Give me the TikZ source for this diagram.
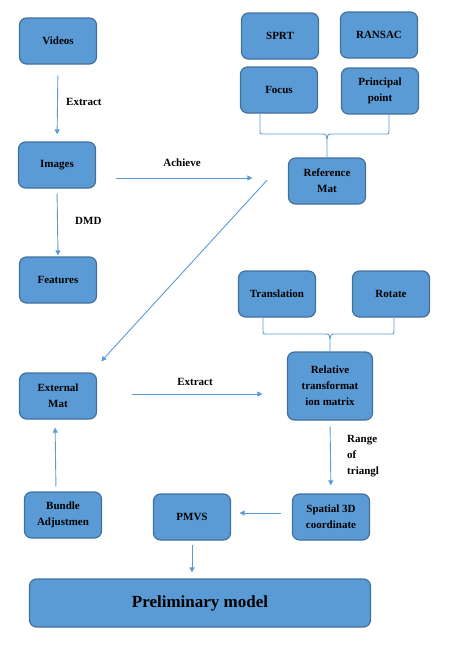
\documentclass[tikz,border=0pt]{standalone}
\usepackage{fontspec}
\setmainfont{Liberation Serif}
\usepackage{tikz}
\usetikzlibrary{arrows.meta}
\definecolor{boxfill}{RGB}{91,155,213}
\definecolor{boxline}{RGB}{65,113,156}
\begin{document}
\begin{tikzpicture}[x=1pt,y=-1pt,
    box/.style={draw=boxline,line width=1.2pt,fill=boxfill,rounded corners=7pt,
        minimum width=\w,minimum height=\h,align=center,inner sep=1pt,
        font=\fontsize{11}{16}\selectfont\bfseries},
    lbl/.style={font=\fontsize{11}{16}\selectfont\bfseries,inner sep=0pt},
    arr/.style={draw=boxfill,line width=0.9pt,-{Triangle[length=5pt,width=5pt]}},
    brace/.style={draw=boxfill,line width=0.9pt}]
        \pgfmathsetmacro\w{77}
        \pgfmathsetmacro\h{46}
        \useasboundingbox (0,0) rectangle (451,659);
        % left column
        \node[box] (videos) at (58,41) {Videos};
        \node[box] (images) at (57,165) {Images};
        \node[box] (features) at (58,280) {Features};
        \node[box] (extmat) at (58,396) {External\\Mat};
        \node[box] (bundle) at (63,515) {Bundle\\Adjustmen};
        % right column
        \node[box] (sprt) at (280,36) {SPRT};
        \node[box] (ransac) at (379,35) {RANSAC};
        \node[box] (focus) at (279,90) {Focus};
        \node[box] (princ) at (380,91) {Principal\\point};
        \node[box] (refmat) at (327,181) {Reference\\Mat};
        \node[box] (transl) at (277,294) {Translation};
        \node[box] (rotate) at (391,294) {Rotate};
        \node[box,minimum width=85,minimum height=68] (reltm) at (330,386) {Relative\\transformat\\ion matrix};
        \node[box] (spatial) at (331,517) {Spatial 3D\\coordinate};
        \node[box] (pmvs) at (192,517) {PMVS};
        \node[box,minimum width=341,minimum height=48,font=\fontsize{17}{20}\selectfont\bfseries] (prelim) at (200,603) {Preliminary model};
        % braces
        \draw[brace] (260,114) -- (260,131) .. controls (260,134) .. (263,134) -- (322,134) .. controls (326,134) .. (327,139) -- (refmat.north);
        \draw[brace] (389,114) -- (389,131) .. controls (389,134) .. (386,134) -- (332,134) .. controls (328,134) .. (327,139);
        \draw[brace] (263,317) -- (263,331) .. controls (263,334) .. (266,334) -- (325,334) .. controls (329,334) .. (330,339) -- (reltm.north);
        \draw[brace] (394,317) -- (394,331) .. controls (394,334) .. (391,334) -- (335,334) .. controls (331,334) .. (330,339);
        % arrows
        \draw[arr,shorten <=11pt,shorten >=7pt] (videos.south) -- (images.north);
        \draw[arr,shorten <=5pt,shorten >=1pt] (images.south) -- (features.north);
        \draw[arr,shorten <=19.5pt,shorten >=35.5pt] ([yshift=-13pt]images.east) -- ([yshift=3pt]refmat.west);
        \draw[arr,shorten <=31pt,shorten >=15pt] (refmat.north west) -- ([xshift=-6pt]extmat.north east);
        \draw[arr,shorten <=34.5pt,shorten >=24.5pt] ([yshift=2pt]extmat.east) -- ([yshift=-8pt]reltm.west);
        \draw[arr,shorten <=6pt,shorten >=8pt] (reltm.south) -- (spatial.north);
        \draw[arr,shorten <=10.5pt,shorten >=8.5pt] ([yshift=4pt]spatial.west) -- ([yshift=4pt]pmvs.east);
        \draw[arr,shorten <=5pt,shorten >=8pt] ([xshift=-7pt]bundle.north) -- ([xshift=-3pt]extmat.south);
        \draw[arr,shorten <=4pt,shorten >=6pt] (pmvs.south) -- (pmvs.south |- prelim.north);
        % labels
        \node[lbl,anchor=west] (lextract) at (66,102) {Extract};
        \node[lbl,anchor=west] (ldmd) at (75,221) {DMD};
        \node[lbl] (lachieve) at (182,163) {Achieve};
        \node[lbl] (lextract2) at (195,382) {Extract};
        \node[lbl,anchor=west,align=left] (lrange) at (347,456) {Range\\of\\triangl};
    \end{tikzpicture}
\end{document}
